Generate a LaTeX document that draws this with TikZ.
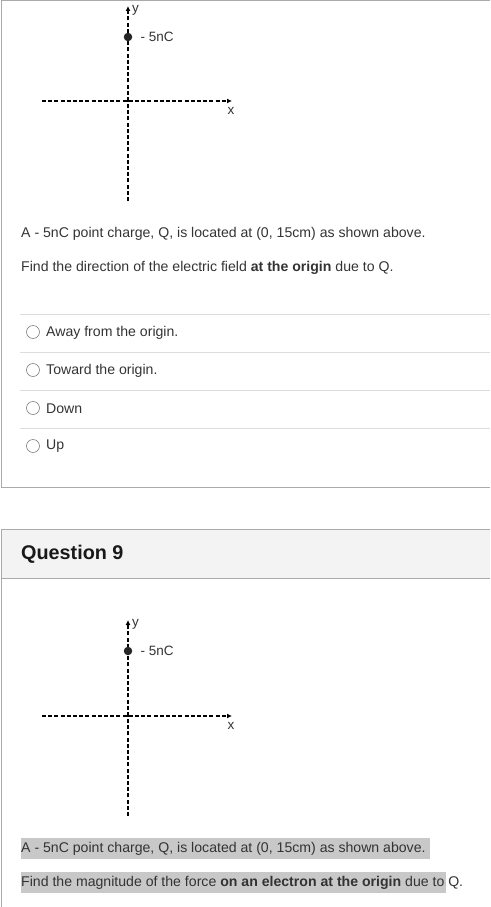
\documentclass[tikz,border=0pt]{standalone}
\usepackage{fontspec}
\setmainfont{Liberation Sans}
\usepackage{tikz}
\usetikzlibrary{arrows.meta, positioning}

\definecolor{txt}{HTML}{333333}
\definecolor{rule}{HTML}{DDDDDD}
\definecolor{card}{HTML}{AAAAAA}
\definecolor{head}{HTML}{F3F3F3}
\definecolor{hlgray}{HTML}{C8C8C8}

\begin{document}
\begin{tikzpicture}[x=1pt,y=-1pt,
    axis/.style={line width=1.6pt, dash pattern=on 4pt off 2.2pt, -{Latex[length=5pt,width=5pt]}},
    tick/.style={line width=1.6pt, dash pattern=on 4pt off 2.2pt},
    charge/.style={circle, fill=black!85, inner sep=0pt, minimum size=8.5pt},
    lbl/.style={font=\fontsize{13.5}{15}\selectfont, text=black!80, inner sep=1pt},
    para/.style={anchor=west, font=\fontsize{14.1}{16}\selectfont, text=txt, inner sep=0pt},
    radio/.style={circle, draw=black!50, line width=0.6pt, minimum size=13pt, inner sep=0pt},
    sep/.style={draw=rule, line width=0.8pt},
    border/.style={draw=card, line width=1pt}]
  \useasboundingbox (0,0) rectangle (490,907);

  % first card
  \draw[border] (490,0.5) -- (1,0.5) -- (1,487) -- (490,487);

  % axes, first sketch
  \coordinate (o1) at (128,101);
  \coordinate (xl1) at (42,101);
  \coordinate (xr1) at (232,101);
  \coordinate (yt1) at (128,6);
  \coordinate (yb1) at (128,201);
  \draw[tick] (yb1) -- (o1);
  \draw[axis] (o1) -- (yt1);
  \draw[axis] (xl1) -- (xr1);
  \node[lbl, right] (y1) at (131,10) {y};
  \node[lbl] (x1) at (231,111) {x};
  \node[charge] (q1) at (128,37) {};
  \node[lbl, right=7pt of q1] (ql1) {- 5nC};

  \node[para] (t1) at (21,234) {A - 5nC point charge, Q, is located at (0, 15cm) as shown above.};
  \node[para] (t2) at (21,268) {Find the direction of the electric field \textbf{at the origin} due to Q.};

  % choices
  \foreach \y in {314,352,390,428}
    \draw[sep] (20,\y) -- (490,\y);
  \foreach \y/\name/\txt in {332/a/Away from the origin.,370/b/Toward the origin.,408/c/Down,446/d/Up}{
    \node[radio] (r\name) at (33,\y) {};
    \node[para] (c\name) at (46,\y+0.5) {\txt};
  }

  % second card
  \fill[head] (1,529) rectangle (490,578);
  \draw[border] (490,529) -- (1,529) -- (1,907);
  \draw[border] (1,578) -- (490,578);
  \node[para, font=\fontsize{19.8}{22}\selectfont\bfseries, text=black!90] (q9) at (21,554) {Question 9};

  % axes, second sketch
  \coordinate (o2) at (128,716);
  \coordinate (xl2) at (42,716);
  \coordinate (xr2) at (232,716);
  \coordinate (yt2) at (128,620);
  \coordinate (yb2) at (128,816);
  \draw[tick] (yb2) -- (o2);
  \draw[axis] (o2) -- (yt2);
  \draw[axis] (xl2) -- (xr2);
  \node[lbl, right] (y2) at (131,624) {y};
  \node[lbl] (x2) at (231,726) {x};
  \node[charge] (q2) at (128,651) {};
  \node[lbl, right=7pt of q2] (ql2) {- 5nC};

  % highlighted text
  \fill[hlgray] (21,838) rectangle (430,859);
  \fill[hlgray] (21,872) rectangle (446,893);
  \node[para] (t3) at (21,849) {A - 5nC point charge, Q, is located at (0, 15cm) as shown above.};
  \node[para] (t4) at (21,883) {Find the magnitude of the force \textbf{on an electron at the origin} due to Q.};
\end{tikzpicture}
\end{document}
